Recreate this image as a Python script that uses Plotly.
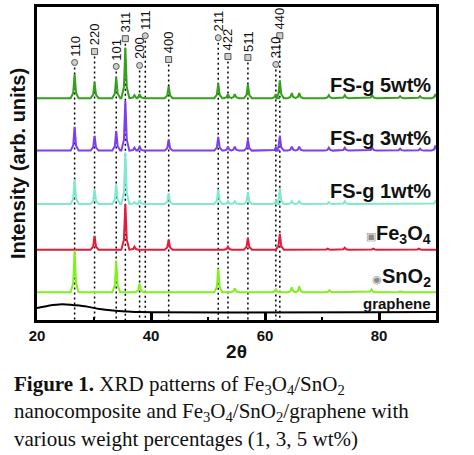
import plotly.graph_objects as go

# ---------------- data ----------------
two_theta_range = [20, 90]

# reflection markers (2θ, label, phase, marker height in intensity units)
ref_pos = [26.6, 30.1, 33.9, 35.5, 38.0, 39.0, 43.1, 51.8, 53.5, 57.0, 61.9, 62.6]
ref_lab = ["110", "220", "101", "311", "200", "111", "400", "211", "422", "511", "310", "440"]
ref_phase = ["SnO2", "Fe3O4", "SnO2", "Fe3O4", "SnO2", "SnO2", "Fe3O4", "SnO2", "Fe3O4", "Fe3O4", "SnO2", "Fe3O4"]
ref_mark_y = [260, 271, 256, 284, 257, 287, 263, 285, 266, 265, 258, 287]

# sample patterns: peak positions and heights (arb. units) + vertical offset
fs5_pos = [26.6, 30.1, 33.9, 35.5, 37.1, 38.0, 43.1, 51.8, 53.5, 54.7, 57.0, 61.9, 62.6, 64.7, 66.0, 71.2, 74.0, 78.8, 83.7, 87.2, 89.9]
fs5_h = [24, 16, 21, 51, 3, 4, 12, 15, 4, 4, 14, 4, 18, 5, 5, 3, 3, 3, 2, 2, 4]
fs5_off = 224

fs3_pos = [26.6, 30.1, 33.9, 35.5, 37.1, 38.0, 43.1, 51.8, 53.5, 54.7, 57.0, 61.9, 62.6, 64.7, 66.0, 71.2, 74.0, 78.8, 83.7, 87.2, 89.9]
fs3_h = [24, 15, 20, 50, 3, 4, 11, 14, 4, 4, 11, 3, 15, 4, 4, 3, 3, 3, 2, 2, 5]
fs3_off = 171

fs1_pos = [26.6, 30.1, 33.9, 35.5, 37.1, 38.0, 43.1, 51.8, 53.5, 54.7, 57.0, 61.9, 62.6, 64.7, 66.0, 71.2, 74.0, 89.9]
fs1_h = [25, 15, 20, 52, 2, 4, 11, 15, 3, 3, 12, 3, 16, 3, 3, 2, 3, 3]
fs1_off = 117

fe_pos = [30.1, 35.5, 37.1, 43.1, 53.5, 57.0, 62.6, 71.0, 74.0, 79.0, 87.0]
fe_h = [14, 46, 3, 10, 3, 12, 16, 1, 2, 1, 1]
fe_off = 71

sn_pos = [26.6, 33.9, 38.0, 51.8, 54.7, 61.9, 64.7, 66.0, 71.3, 78.7, 83.7]
sn_h = [42, 32, 9, 24, 4, 3, 5, 6, 2, 3, 1]
sn_off = 28

gr_x = [20, 22, 24.4, 26.5, 28.8, 31, 33.3, 36, 38, 90]
gr_y = [12, 14.5, 16, 15, 13.5, 11, 9.5, 8.5, 8, 8]

series_names = ["FS-g 5wt%", "FS-g 3wt%", "FS-g 1wt%", "Fe3O4", "SnO2"]
series_colors = ["#34a01e", "#7b3ef2", "#7fe9cf", "#e31c3b", "#80f020"]

# --------------- helpers ---------------
def pattern(pos, h, off):
    xs, ys = [two_theta_range[0]], [off]
    for p, v in sorted(zip(pos, h)):
        for dx, f in [(-0.7, 0), (-0.25, 0.22), (0, 1), (0.25, 0.22), (0.7, 0)]:
            xs.append(p + dx)
            ys.append(off + v * f)
    xs.append(two_theta_range[1])
    ys.append(off)
    return xs, ys

fig = go.Figure()

# dotted reference lines
lx, ly = [], []
for p, m in zip(ref_pos, ref_mark_y):
    lx += [p, p, None]
    ly += [m - 5, 0, None]
fig.add_trace(go.Scatter(x=lx, y=ly, mode="lines",
                         line=dict(color="black", width=1.5, dash="2px,3px"),
                         hoverinfo="skip", showlegend=False))

# graphene
fig.add_trace(go.Scatter(x=gr_x, y=gr_y, mode="lines", line_shape="spline",
                         line=dict(color="black", width=2), showlegend=False))

all_data = [(fs5_pos, fs5_h, fs5_off), (fs3_pos, fs3_h, fs3_off), (fs1_pos, fs1_h, fs1_off),
            (fe_pos, fe_h, fe_off), (sn_pos, sn_h, sn_off)]
for (pos, h, off), name, col in zip(all_data, series_names, series_colors):
    xs, ys = pattern(pos, h, off)
    fig.add_trace(go.Scatter(x=xs, y=ys, mode="lines", name=name,
                             line=dict(color=col, width=2), showlegend=False))

# reflection markers
for phase, sym in [("SnO2", "circle"), ("Fe3O4", "square")]:
    xs = [p for p, ph in zip(ref_pos, ref_phase) if ph == phase]
    ys = [m for m, ph in zip(ref_mark_y, ref_phase) if ph == phase]
    fig.add_trace(go.Scatter(x=xs, y=ys, mode="markers",
                             marker=dict(symbol=sym, size=6, color="#cfcfcf",
                                         line=dict(color="#555", width=1)),
                             showlegend=False))

annotations = []
for p, lab, m in zip(ref_pos, ref_lab, ref_mark_y):
    annotations.append(dict(x=p, y=m + 4, xref="x", yref="y", text=lab, textangle=-90,
                            showarrow=False, xanchor="center", yanchor="bottom",
                            font=dict(family="Liberation Sans, Arial", size=13, color="#111")))

lab_font = dict(family="Liberation Sans, Arial", size=20, color="#111")
series_label_text = ["<b>FS-g 5wt%</b>", "<b>FS-g 3wt%</b>", "<b>FS-g 1wt%</b>",
                     "<span style='color:#8a8a8a;font-size:11px'>▣</span><b>Fe<sub>3</sub>O<sub>4</sub></b>",
                     "<span style='color:#8a8a8a;font-size:11px'>◉</span><b>SnO<sub>2</sub></b>"]
series_label_y = [237, 184, 130, 86, 43]
for t, yy in zip(series_label_text, series_label_y):
    annotations.append(dict(x=0.993, y=yy, xref="paper", yref="y", text=t, showarrow=False,
                            xanchor="right", yanchor="middle", font=lab_font))
annotations.append(dict(x=0.993, y=17, xref="paper", yref="y", text="<b>graphene</b>",
                        showarrow=False, xanchor="right", yanchor="middle",
                        font=dict(family="Liberation Sans, Arial", size=15, color="#111")))

cap_font = dict(family="Liberation Serif, Times New Roman", size=21, color="#111")
caption = ["<b>Figure 1.</b> XRD patterns of Fe<sub>3</sub>O<sub>4</sub>/SnO<sub>2</sub>",
           "nanocomposite and Fe<sub>3</sub>O<sub>4</sub>/SnO<sub>2</sub>/graphene with",
           "various weight percentages (1, 3, 5 wt%)"]
cap_y_px = [386, 413, 440]
for t, py in zip(caption, cap_y_px):
    annotations.append(dict(x=(12 - 37) / 399, y=(320 - py) / 316, xref="paper", yref="paper",
                            text=t, showarrow=False, xanchor="left", yanchor="middle",
                            font=cap_font))

fig.update_layout(
    width=474, height=455,
    margin=dict(l=37, r=38, t=4, b=135),
    paper_bgcolor="white", plot_bgcolor="white",
    annotations=annotations,
    xaxis=dict(range=two_theta_range, showgrid=False, zeroline=False,
               showline=True, linecolor="black", linewidth=3, mirror=True,
               ticks="inside", ticklen=8, tickwidth=3, tickcolor="black",
               tick0=20, dtick=20,
               minor=dict(dtick=10, ticks="inside", ticklen=3, tickwidth=2, tickcolor="black"),
               tickfont=dict(family="Liberation Sans, Arial", size=15, color="#111", weight="bold"),
               title=dict(text="<b>2θ</b>", standoff=2,
                          font=dict(family="Liberation Sans, Arial", size=19, color="#111"))),
    yaxis=dict(range=[0, 316], showgrid=False, zeroline=False, showticklabels=False,
               showline=True, linecolor="black", linewidth=3, mirror=True, ticks="",
               title=dict(text="<b>Intensity (arb. units)</b>", standoff=4,
                          font=dict(family="Liberation Sans, Arial", size=20, color="#111"))),
)

fig.write_html("out.html")
